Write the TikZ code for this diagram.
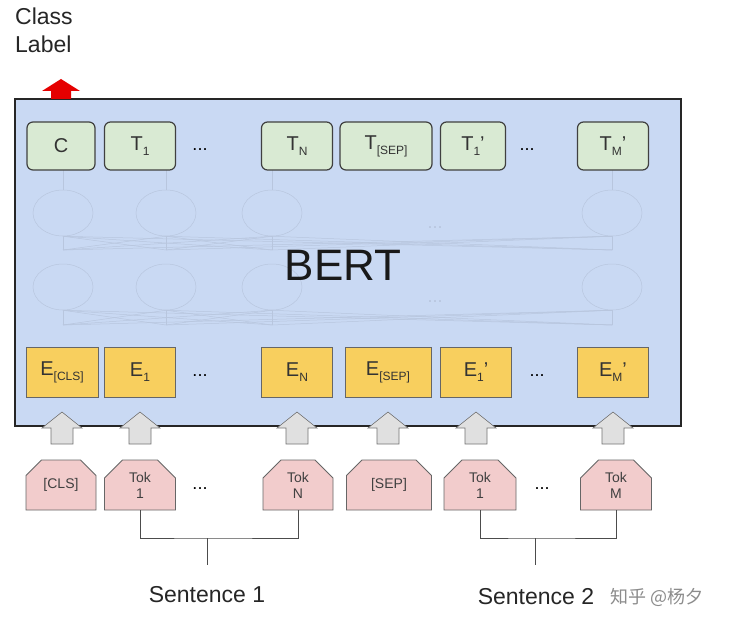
\documentclass[tikz,border=0pt]{standalone}
\usepackage{fontspec}
\setmainfont{Liberation Sans}
\newfontfamily\cjk{Noto Sans CJK SC}
\usetikzlibrary{shapes.misc,shapes.geometric}
\definecolor{bertbg}{HTML}{C9D9F3}
\definecolor{outg}{HTML}{D9EAD3}
\definecolor{embY}{HTML}{F8CF5E}
\definecolor{tokP}{HTML}{F2CCCC}
\definecolor{faint}{HTML}{B8C6DE}
\newcommand\lowsub[1]{\raisebox{-5pt}{\fontsize{12}{12}\selectfont #1}}
\tikzset{
 outbox/.style={draw=black!75,fill=outg,rounded corners=6pt,line width=1.2pt,minimum height=48pt,font=\fontsize{20}{20}\selectfont,text=black!80},
 embbox/.style={draw=black!60,fill=embY,line width=0.8pt,minimum height=50pt,font=\fontsize{20}{20}\selectfont,text=black!80},
 tokbox/.style={draw=black!60,fill=tokP,chamfered rectangle,chamfered rectangle corners={north west,north east},chamfered rectangle xsep=9pt,chamfered rectangle ysep=9pt,line width=0.8pt,minimum height=50pt,inner sep=0pt,font=\fontsize{14}{16}\selectfont,align=center,text=black!75},
 dots/.style={font=\fontsize{18}{18}\selectfont},
 garrow/.style={fill=black!12,draw=black!55,line width=0.6pt},
 faintl/.style={draw=faint,line width=0.5pt},
 lbl/.style={font=\fontsize{23}{28}\selectfont,text=black!85}
}
\begin{document}
\begin{tikzpicture}[x=1pt,y=-1pt]
\useasboundingbox (0,0) rectangle (732,626);
\fill[white] (0,0) rectangle (732,626);
% main box
\node[draw=black!85,fill=bertbg,line width=2.5pt,minimum width=666pt,minimum height=327pt,inner sep=0pt] (bert) at (348,262.5) {};
% faint network
\foreach \x in {63,166,272,612}{
 \node[faintl,draw,ellipse,minimum width=60pt,minimum height=46pt] (u\x) at (\x,213) {};
 \node[faintl,draw,ellipse,minimum width=60pt,minimum height=46pt] (l\x) at (\x,287) {};
 \draw[faintl,->] (u\x.north) -- ++(0,-28);
}
\node[text=faint,dots] (fd1) at (435,228) {...};
\node[text=faint,dots] (fd2) at (435,302) {...};
\foreach \a in {63,166,272,612}{\foreach \b in {63,166,272,612}{
 \draw[faintl] (\a,325) -- (l\b.south);
 \draw[faintl] (\a,250) -- (u\b.south);
}}
\node[font=\fontsize{44}{44}\selectfont,text=black!90] (bt) at (343,265) {BERT};
% outputs
\node[outbox,minimum width=68pt] (C) at (61,146) {C};
\node[outbox,minimum width=71pt] (T1) at (140,146) {T\lowsub{1}};
\node[dots] (d1) at (200,150) {...};
\node[outbox,minimum width=71pt] (TN) at (297,146) {T\lowsub{N}};
\node[outbox,minimum width=92pt] (TS) at (386,146) {T\lowsub{[SEP]}};
\node[outbox,minimum width=65pt] (T1p) at (473,146) {T\lowsub{1}'};
\node[dots] (d2) at (527,150) {...};
\node[outbox,minimum width=71pt] (TM) at (613,146) {T\lowsub{M}'};
% embeddings
\node[embbox,minimum width=72pt] (EC) at (62,372) {E\lowsub{[CLS]}};
\node[embbox,minimum width=71pt] (E1) at (140,372) {E\lowsub{1}};
\node[dots] (d3) at (200,376) {...};
\node[embbox,minimum width=71pt] (EN) at (297,372) {E\lowsub{N}};
\node[embbox,minimum width=86pt] (ES) at (388,372) {E\lowsub{[SEP]}};
\node[embbox,minimum width=71pt] (E1p) at (476,372) {E\lowsub{1}'};
\node[dots] (d4) at (537,376) {...};
\node[embbox,minimum width=71pt] (EM) at (613,372) {E\lowsub{M}'};
% tokens
\node[tokbox,minimum width=70pt] (KC) at (61,485) {[CLS]};
\node[tokbox,minimum width=71pt] (K1) at (140,485) {Tok\\1};
\node[dots] (d5) at (200,489) {...};
\node[tokbox,minimum width=70pt] (KN) at (298,485) {Tok\\N};
\node[tokbox,minimum width=85pt] (KS) at (389,485) {[SEP]};
\node[tokbox,minimum width=72pt] (K1p) at (480,485) {Tok\\1};
\node[dots] (d6) at (542,489) {...};
\node[tokbox,minimum width=71pt] (KM) at (616,485) {Tok\\M};
% gray arrows
\foreach \x in {62,140,297,388,476,613}{
 \draw[garrow] (\x-11,444) -- (\x-11,428) -- (\x-20,428) -- (\x,412) -- (\x+20,428) -- (\x+11,428) -- (\x+11,444) -- cycle;
}
% red arrow
\fill[red!90!black] (51,99) -- (51,91) -- (42,91) -- (61,79) -- (80,91) -- (71,91) -- (71,99) -- cycle;
\node[lbl,align=left,anchor=north west,inner sep=0pt] (cl) at (15,8) {Class\\Label};
% brackets
\coordinate (s1) at (207,538);
\coordinate (s2) at (535,538);
\draw[black!70,line width=0.9pt] (K1.south) |- (s1) -| (KN.south);
\draw[black!70,line width=0.9pt] (s1) -- ++(0,27);
\draw[black!70,line width=0.9pt] (K1p.south) |- (s2) -| (KM.south);
\draw[black!70,line width=0.9pt] (s2) -- ++(0,27);
\node[lbl] (sen1) at (207,595) {Sentence 1};
\node[lbl] (sen2) at (536,597) {Sentence 2};
\node[font=\cjk\fontsize{18}{18}\selectfont,text=black!45] (wm) at (657,597) {知乎 @杨夕};
\end{tikzpicture}
\end{document}
